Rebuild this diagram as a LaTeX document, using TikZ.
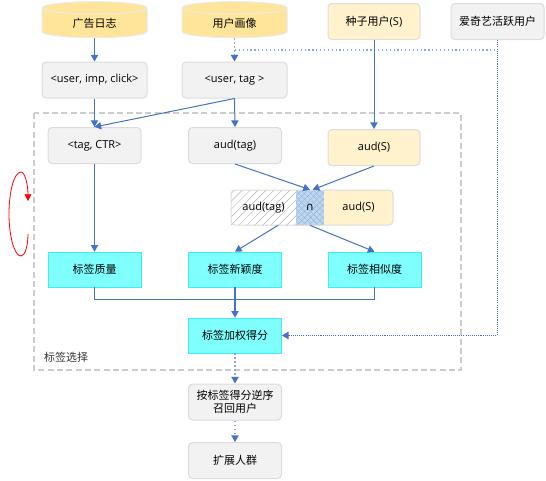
\documentclass[tikz,border=0pt]{standalone}
\usepackage{fontspec}
\setmainfont{Open Sans}
\newfontfamily\cjk{Noto Sans CJK SC}
\usetikzlibrary{arrows.meta,shapes.geometric,patterns.meta}
\definecolor{lineblue}{HTML}{4472C4}
\definecolor{dotblue}{HTML}{8FA5D8}
\definecolor{boxgrey}{HTML}{F2F2F2}
\definecolor{edgegrey}{HTML}{DCDCDC}
\definecolor{cream}{HTML}{FFF2CC}
\definecolor{cyanbox}{HTML}{80FFFF}
\definecolor{cyanedge}{HTML}{40F0F0}
\definecolor{gold}{HTML}{FFE599}
\definecolor{bluemid}{HTML}{BDD7EE}
\tikzset{
  base/.style={inner sep=0pt,align=center,font=\fontsize{8.25pt}{11pt}\selectfont,line width=.75pt},
  greybox/.style={base,draw=edgegrey,fill=boxgrey,rounded corners=3pt,minimum width=#1*.75pt,minimum height=27pt},
  greybox/.default=93,
  creambox/.style={base,draw=edgegrey,fill=cream,rounded corners=3pt,minimum width=69pt,minimum height=27pt},
  cyanfill/.style={base,draw=cyanedge,fill=cyanbox,line width=.5pt,minimum width=69.75pt,minimum height=26.25pt},
  dbcyl/.style={base,cylinder,shape border rotate=90,aspect=.28,draw=edgegrey!60,cylinder uses custom fill,cylinder end fill=gold,cylinder body fill=gold,minimum width=78.75pt,minimum height=27pt},
  conn/.style={draw=lineblue,line width=.75pt,-{Triangle[length=5pt,width=5.5pt]}},
  plain/.style={draw=lineblue,line width=.75pt},
  dotconn/.style={draw=dotblue,line width=1pt,dotted,-{Triangle[length=5pt,width=5.5pt,color=lineblue]}},
  dotplain/.style={draw=dotblue,line width=.9pt,dotted},
  activeline/.style={draw=lineblue,line width=.7pt,dash pattern=on .8pt off .8pt},
  framebox/.style={draw=black!20,line width=.8pt,dash pattern=on 4.5pt off 2.5pt},
  vtext/.style={base,minimum height=26pt},
}
\begin{document}
\begin{tikzpicture}[x=.75pt,y=-.75pt]
\useasboundingbox (0,0) rectangle (546,480);
% frame
\draw[framebox] (34,113) rectangle (461,370);
% top row
\node[dbcyl] (log) at (94.5,23) {\cjk 广告日志};
\node[dbcyl] (prof) at (234.5,23) {\cjk 用户画像};
\node[creambox] (seed) at (374,21.5) {\cjk 种子用户\rm(S)};
\node[greybox] (act) at (497.5,21.5) {\cjk 爱奇艺活跃用户};
% second row
\node[greybox=105] (imp) at (94.5,80) {<user, imp, click>};
\node[greybox=105] (ut) at (234.5,80) {<user, tag >};
% third row
\node[greybox] (ctr) at (94.5,145.5) {<tag, CTR>};
\node[greybox] (audt) at (235,145.5) {aud(tag)};
\node[creambox] (auds) at (374,147.5) {aud(S)};
% venn
\fill[white,rounded corners=3pt] (231,190) rectangle (300,225);
\path[pattern={Lines[angle=45,distance=4.2pt,line width=.35pt]},pattern color=black!30] (231,190) rectangle (296,225);
\fill[bluemid] (296,190) rectangle (324,225);
\path[pattern={Lines[angle=45,distance=3.2pt,line width=.3pt]},pattern color=lineblue!55] (296,190) rectangle (324,225);
\path[pattern={Lines[angle=-45,distance=3.2pt,line width=.3pt]},pattern color=lineblue!55] (296,190) rectangle (324,225);
\fill[cream,rounded corners=3pt] (328,190) rectangle (393,225);
\fill[cream] (324,190) rectangle (332,225);
\draw[edgegrey,line width=.75pt,rounded corners=3pt] (231,190) rectangle (393,225);
\node[vtext,minimum width=48pt] (vl) at (263.5,207.5) {aud(tag)};
\node[vtext,minimum width=21pt] (vm) at (310,207.5) {\fontspec{DejaVu Sans}∩};
\node[vtext,minimum width=51pt] (vr) at (358.5,207.5) {aud(S)};
% scores
\node[cyanfill] (qual) at (94.5,269.5) {\cjk 标签质量};
\node[cyanfill] (fresh) at (235,269.5) {\cjk 标签新颖度};
\node[cyanfill] (sim) at (374.5,269.5) {\cjk 标签相似度};
\node[cyanfill] (score) at (235,335.5) {\cjk 标签加权得分};
\node[greybox] (recall) at (235,402) {\cjk 按标签得分逆序\\[-1pt]\cjk 召回用户};
\node[greybox] (ext) at (235,460.5) {\cjk 扩展人群};
\node[base,text=black!80,anchor=center] (lab) at (66,357) {\cjk 标签选择};
% connectors
\draw[conn] (log.south) -- (imp.north);
\draw[conn] (imp.south) -- (ctr.north);
\draw[conn] (ut.south) -- (ctr.north);
\draw[conn] (ut.south) -- (audt.north);
\draw[dotconn] (prof.south) -- (ut.north);
\coordinate (jl) at (235,50);
\coordinate (jr) at (act.south |- jl);
\draw[dotplain] (jl) -- (jr);
\draw[conn] (seed.south) -- (auds.north);
\draw[conn] (audt.south) -- (vm.north);
\draw[conn] (auds.south) -- ([xshift=2pt]vm.north);
\draw[conn] ([xshift=-24pt]vm.south) -- (fresh.north);
\draw[conn] (vm.south) -- (sim.north);
\draw[conn] (ctr.south) -- (qual.north);
\draw[plain] (qual.south) |- (235,299) -| (sim.south);
\draw[conn,line width=1.1pt] (fresh.south) -- (score.north);
\draw[activeline,-{Triangle[length=5pt,width=5.5pt]}] (act.south) |- (score.east);
\draw[dotconn] (score.south) -- (recall.north);
\draw[dotconn] (recall.south) -- (ext.north);
% red loop
\draw[red,line width=.6pt,-{Triangle[length=5pt,width=5pt]}] (28,234) .. controls (28,246) and (25,256) .. (21,256) .. controls (14,256) and (9,235) .. (9,214) .. controls (9,192) and (14,172) .. (21,172) .. controls (25,172) and (28,185) .. (28,201);
\end{tikzpicture}
\end{document}
